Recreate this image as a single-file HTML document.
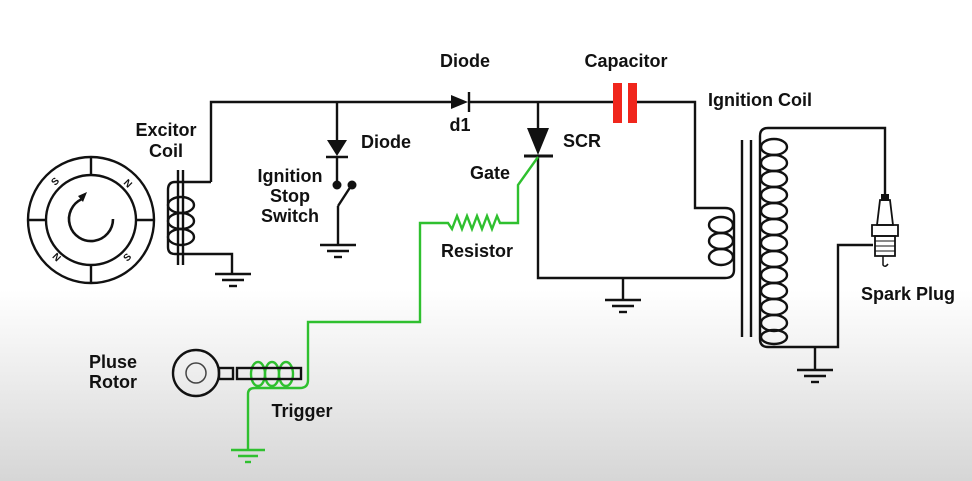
<!DOCTYPE html>
<html><head><style>
html,body{margin:0;padding:0;}
body{width:972px;height:481px;overflow:hidden;background:linear-gradient(#fff 0,#fff 290px,#d6d6d6 481px);}
svg{display:block}
text{font-family:"Liberation Sans",Arial,sans-serif;font-weight:bold;font-size:18px;fill:#111;}
</style></head><body>
<svg width="972" height="481" viewBox="0 0 972 481">
<g fill="none" stroke="#111" stroke-width="2.4">
<circle cx="91" cy="220" r="63"/>
<circle cx="91" cy="220" r="45"/>
<line x1="91" y1="157" x2="91" y2="175"/><line x1="91" y1="265" x2="91" y2="283"/>
<line x1="28" y1="220" x2="46" y2="220"/><line x1="136" y1="220" x2="154" y2="220"/>
<path d="M82 199 A22 22 0 1 0 113 219" stroke-width="2.6"/>
</g>
<path d="M78 196 L87 192 L83 202 Z" fill="#111"/>
<text x="53" y="187" transform="rotate(-45 53 184)" style="font-size:10px">S</text>
<text x="124" y="187" transform="rotate(45 128 184)" style="font-size:10px">N</text>
<text x="53" y="260" transform="rotate(45 56 257)" style="font-size:10px">N</text>
<text x="124" y="260" transform="rotate(-45 128 257)" style="font-size:10px">S</text>
<g fill="none" stroke="#111" stroke-width="2.4">
<line x1="178" y1="170" x2="178" y2="265"/><line x1="183" y1="170" x2="183" y2="265"/>
<path d="M211 182 H175 Q168 182 168 190 V247 Q168 254 175 254 H232 V274"/>
<ellipse cx="181" cy="205" rx="13" ry="8"/><ellipse cx="181" cy="221" rx="13" ry="8"/><ellipse cx="181" cy="237" rx="13" ry="8"/>
<line x1="215" y1="274" x2="251" y2="274"/><line x1="222" y1="280" x2="244" y2="280"/><line x1="229" y1="286" x2="237" y2="286"/>
<path d="M211 182 V102 H451"/><path d="M469 102 H613"/><path d="M637 102 H695 V208 H725 Q734 208 734 216 V270 Q734 278 725 278 H538 V156"/>
<line x1="538" y1="102" x2="538" y2="128"/>
<line x1="337" y1="102" x2="337" y2="140"/><line x1="326" y1="157" x2="348" y2="157"/>
<line x1="337" y1="157" x2="337" y2="184"/>
<path d="M338 206 L351 186"/><line x1="338" y1="206" x2="338" y2="245"/>
<line x1="320" y1="245" x2="356" y2="245"/><line x1="327" y1="251" x2="349" y2="251"/><line x1="334" y1="257" x2="342" y2="257"/>
<line x1="469" y1="92" x2="469" y2="112"/>
<line x1="524" y1="156" x2="553" y2="156" stroke-width="3"/>
<line x1="623" y1="278" x2="623" y2="300"/>
<line x1="605" y1="300" x2="641" y2="300"/><line x1="612" y1="306" x2="634" y2="306"/><line x1="619" y1="312" x2="627" y2="312"/>
<ellipse cx="721" cy="225" rx="12" ry="8"/><ellipse cx="721" cy="241" rx="12" ry="8"/><ellipse cx="721" cy="257" rx="12" ry="8"/>
<line x1="742" y1="140" x2="742" y2="337"/><line x1="751" y1="140" x2="751" y2="337"/>
<path d="M885 195 V128 H768 Q760 128 760 136 V339 Q760 347 768 347 H838 V245 H873"/>
<line x1="815" y1="347" x2="815" y2="370"/>
<line x1="797" y1="370" x2="833" y2="370"/><line x1="804" y1="376" x2="826" y2="376"/><line x1="811" y1="382" x2="819" y2="382"/>
<ellipse cx="774" cy="147" rx="13" ry="8"/><ellipse cx="774" cy="163" rx="13" ry="8"/><ellipse cx="774" cy="179" rx="13" ry="8"/><ellipse cx="774" cy="195" rx="13" ry="8"/><ellipse cx="774" cy="211" rx="13" ry="8"/><ellipse cx="774" cy="227" rx="13" ry="8"/><ellipse cx="774" cy="243" rx="13" ry="8"/><ellipse cx="774" cy="259" rx="13" ry="8"/><ellipse cx="774" cy="275" rx="13" ry="8"/><ellipse cx="774" cy="291" rx="13" ry="8"/><ellipse cx="774" cy="307" rx="13" ry="8"/><ellipse cx="774" cy="323" rx="13" ry="8"/><ellipse cx="774" cy="337" rx="13" ry="7"/>
<path d="M880 200 H890 L893 225 H877 Z" stroke-width="1.8"/>
<path d="M872 225 H898 V236 H872 Z" stroke-width="1.8"/>
<path d="M875 236 H895 V256 H875 Z" stroke-width="1.8"/>
<line x1="875" y1="241" x2="895" y2="241" stroke-width="1"/><line x1="875" y1="246" x2="895" y2="246" stroke-width="1"/><line x1="875" y1="251" x2="895" y2="251" stroke-width="1"/>
<path d="M883 256 V265 Q885 268 888 264" stroke-width="1.5"/>
</g>
<rect x="881" y="194" width="8" height="7" fill="#111"/>
<circle cx="337" cy="185" r="4.5" fill="#111"/><circle cx="352" cy="185" r="4.5" fill="#111"/>
<path d="M327 140 H347 L337 156 Z" fill="#111"/>
<path d="M451 95 L468 102 L451 109 Z" fill="#111"/>
<path d="M527 128 H549 L538 155 Z" fill="#111"/>
<rect x="613" y="83" width="9" height="40" fill="#f0261c"/><rect x="628" y="83" width="9" height="40" fill="#f0261c"/>
<g fill="none" stroke="#2fc02f" stroke-width="2.4">
<path d="M538 157 L518 185 V223 H500 L497 216 L492 229 L487 216 L482 229 L477 216 L472 229 L467 216 L462 229 L457 216 L452 229 L448 223 H420 V322 H308 V380 Q308 388 300 388 H255 Q248 388 248 394 V450"/>
<ellipse cx="258" cy="374" rx="7" ry="12"/><ellipse cx="272" cy="374" rx="7" ry="12"/><ellipse cx="286" cy="374" rx="7" ry="12"/>
<line x1="231" y1="450" x2="265" y2="450"/><line x1="238" y1="456" x2="258" y2="456"/><line x1="245" y1="462" x2="251" y2="462"/>
</g>
<g fill="none" stroke="#111" stroke-width="2.4">
<circle cx="196" cy="373" r="23"/>
<circle cx="196" cy="373" r="10" stroke="#444" stroke-width="1.5"/>
<rect x="219" y="368" width="14" height="11"/>
<rect x="237" y="368" width="64" height="11"/>
</g>
<text x="166" y="136" text-anchor="middle">Excitor</text>
<text x="166" y="157" text-anchor="middle">Coil</text>
<text x="465" y="67" text-anchor="middle">Diode</text>
<text x="626" y="67" text-anchor="middle">Capacitor</text>
<text x="760" y="106" text-anchor="middle">Ignition Coil</text>
<text x="386" y="148" text-anchor="middle">Diode</text>
<text x="290" y="182" text-anchor="middle">Ignition</text>
<text x="290" y="202" text-anchor="middle">Stop</text>
<text x="290" y="222" text-anchor="middle">Switch</text>
<text x="460" y="131" text-anchor="middle">d1</text>
<text x="582" y="147" text-anchor="middle">SCR</text>
<text x="490" y="179" text-anchor="middle">Gate</text>
<text x="477" y="257" text-anchor="middle">Resistor</text>
<text x="908" y="300" text-anchor="middle">Spark Plug</text>
<text x="113" y="368" text-anchor="middle">Pluse</text>
<text x="113" y="388" text-anchor="middle">Rotor</text>
<text x="302" y="417" text-anchor="middle">Trigger</text>
</svg>
</body></html>
